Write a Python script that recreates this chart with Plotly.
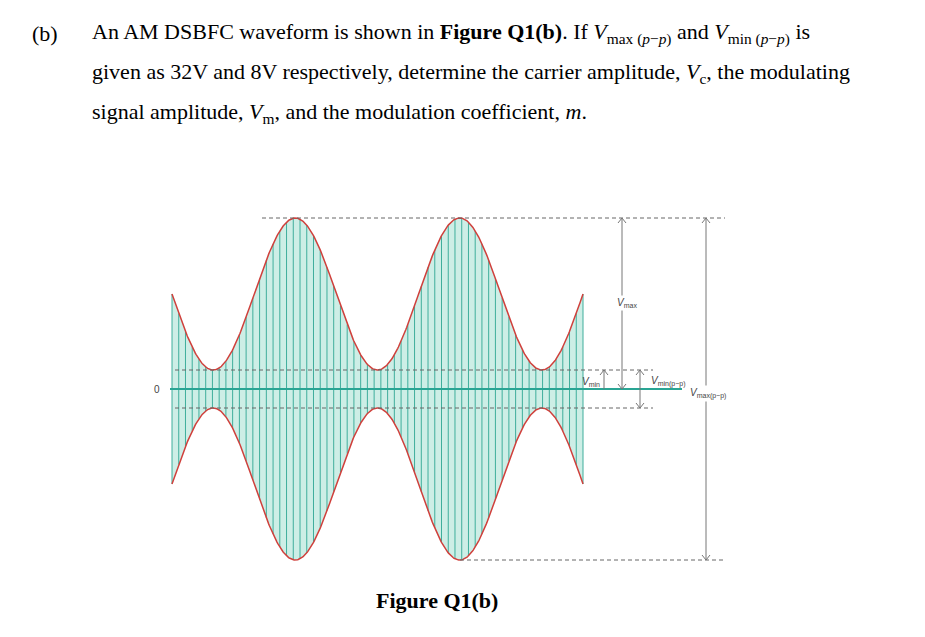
import numpy as np
import plotly.graph_objects as go

# ---- data ----
V_max = [9.0]          # envelope peak (diagram units)
V_min = [1.0]          # envelope trough
t_span = [-0.25, 2.25] # modulating periods shown
n_carrier = [62]       # carrier lines drawn
labels = ["0", "<i>V</i><sub>max</sub>", "<i>V</i><sub>min</sub>",
          "<i>V</i><sub>min(p\u2212p)</sub>", "<i>V</i><sub>max(p\u2212p)</sub>"]

W, H = 925, 637
OFF = 8  # page body margin
px_per_t = 164.4
px_per_v = 19.0
x0 = -0.25 - (172 - OFF) / px_per_t
y_top = (389 - OFF) / px_per_v
xr = [x0, x0 + W / px_per_t]
yr = [y_top - H / px_per_v, y_top]
def X(px): return x0 + (px - OFF) / px_per_t
def Y(py): return y_top - (py - OFF) / px_per_v

vc = (V_max[0] + V_min[0]) / 2
vm = (V_max[0] - V_min[0]) / 2
t = np.linspace(t_span[0], t_span[1], 600)
env = vc - vm * np.cos(2 * np.pi * t)

fig = go.Figure()
fig.add_trace(go.Scatter(x=np.concatenate([t, t[::-1]]), y=np.concatenate([env, -env[::-1]]),
                         fill="toself", fillcolor="#cdeee6", line=dict(width=0), mode="lines"))
tc = np.linspace(t_span[0], t_span[1], n_carrier[0])
ec = vc - vm * np.cos(2 * np.pi * tc)
xs, ys = [], []
for a, e in zip(tc, ec):
    xs += [a, a, None]; ys += [-e, e, None]
fig.add_trace(go.Scatter(x=xs, y=ys, mode="lines", line=dict(color="#3fae9c", width=1)))
fig.add_trace(go.Scatter(x=t, y=env, mode="lines", line=dict(color="#d0403c", width=1.5)))
fig.add_trace(go.Scatter(x=t, y=-env, mode="lines", line=dict(color="#d0403c", width=1.5)))
fig.add_trace(go.Scatter(x=[X(170), X(682)], y=[0, 0], mode="lines", line=dict(color="#2aa594", width=2)))

dash = dict(color="#666", width=1, dash="4px,3px")
for xa, xb, yv in [(X(262), X(725), V_max[0]), (X(460), X(725), -V_max[0]),
                   (X(175), X(653), V_min[0]), (X(175), X(653), -V_min[0])]:
    fig.add_trace(go.Scatter(x=[xa, xb], y=[yv, yv], mode="lines", line=dash))

gray = dict(color="#777", width=1)
def chev(xc, yc, up):
    d = 5 / px_per_v * (1 if up else -1)
    w = 4 / px_per_t
    fig.add_trace(go.Scatter(x=[xc - w, xc, xc + w], y=[yc - d, yc, yc - d], mode="lines", line=gray))
def arrow(px, ya, yb, up=True, down=True):
    fig.add_trace(go.Scatter(x=[X(px), X(px)], y=[ya, yb], mode="lines", line=gray))
    if up: chev(X(px), max(ya, yb), True)
    if down: chev(X(px), min(ya, yb), False)

arrow(622, V_max[0], 0)
arrow(604, 0, V_min[0], down=False)
arrow(640, V_min[0], -V_min[0])
arrow(706, V_max[0], -V_max[0])

fig.update_layout(width=W, height=H, margin=dict(l=0, r=0, t=0, b=0), showlegend=False,
                  plot_bgcolor="white", paper_bgcolor="white")
fig.update_xaxes(range=xr, visible=False)
fig.update_yaxes(range=yr, visible=False)

def lab(px, py, s, bg=None, size=10):
    fig.add_annotation(x=X(px), y=Y(py), text=s, showarrow=False,
                       font=dict(family="Liberation Sans", size=size, color="#444"),
                       bgcolor=bg if bg else "rgba(0,0,0,0)")
lab(157, 389, labels[0], size=10)
lab(627, 303, labels[1], bg="white")
lab(591, 382, labels[2])
lab(668, 381, labels[3])
lab(708, 393, labels[4], bg="white")

serif = dict(family="Liberation Serif", size=22, color="black")
def txt(px, py, s, anchor="left"):
    fig.add_annotation(xref="paper", yref="paper", x=(px - OFF) / W, y=1 - (py - OFF) / H, text=s,
                       showarrow=False, xanchor=anchor, yanchor="middle", font=serif)
txt(30, 33, "(b)")
txt(90, 33, "An AM DSBFC waveform is shown in <b>Figure Q1(b)</b>. If <i>V</i><sub>max (<i>p</i>\u2212<i>p</i>)</sub> and <i>V</i><sub>min (<i>p</i>\u2212<i>p</i>)</sub> is")
txt(90, 73, "given as 32V and 8V respectively, determine the carrier amplitude, <i>V</i><sub>c</sub>, the modulating")
txt(90, 113, "signal amplitude, <i>V</i><sub>m</sub>, and the modulation coefficient, <i>m</i>.")
txt(437, 600, "<b>Figure Q1(b)</b>", anchor="center")

fig.write_html("out.html")
